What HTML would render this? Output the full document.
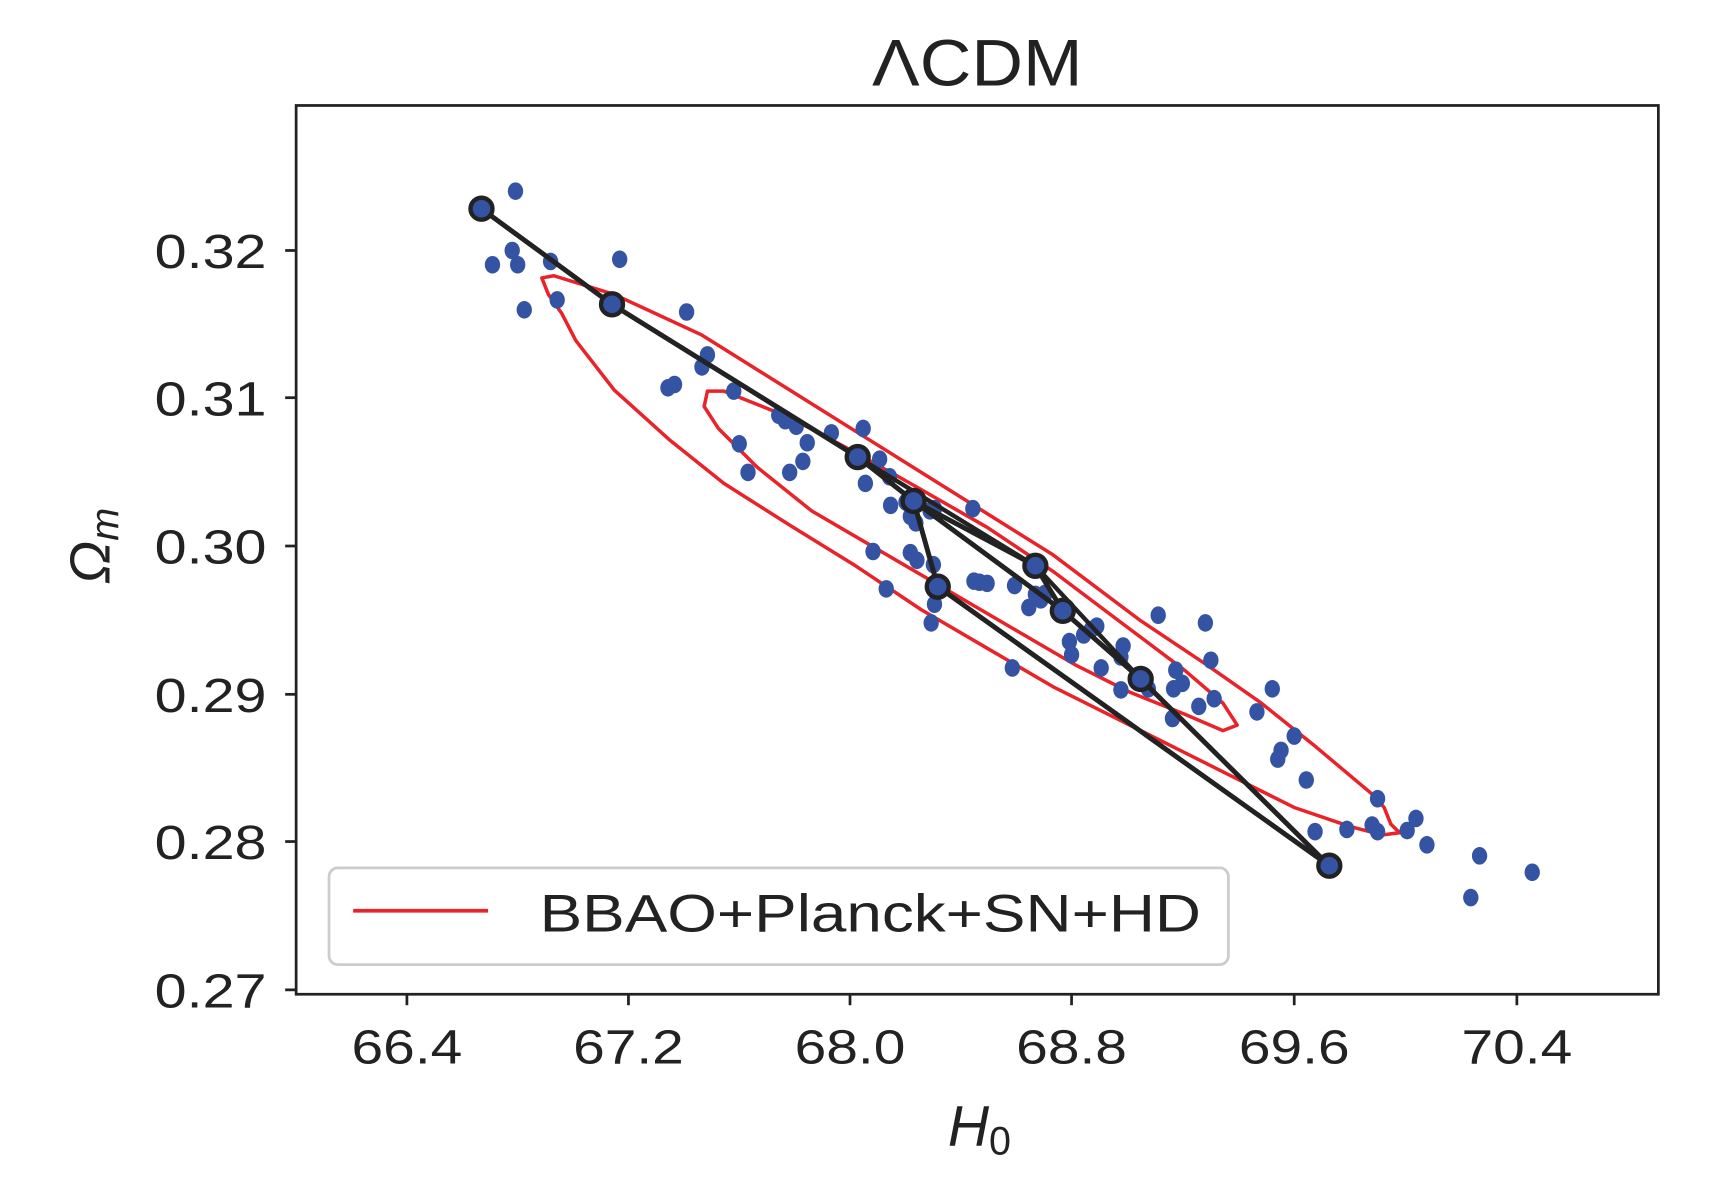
<!DOCTYPE html>
<html><head><meta charset="utf-8"><style>html,body{margin:0;padding:0;background:#fff}svg{display:block}</style></head>
<body>
<svg width="1711" height="1192" viewBox="0 0 1560 1085" preserveAspectRatio="none" xmlns="http://www.w3.org/2000/svg" font-family="'Liberation Sans','DejaVu Sans',sans-serif" fill="#222">
<rect width="1560" height="1085" fill="#fff"/>
<text x="891" y="78" font-size="60" text-anchor="middle" textLength="192" lengthAdjust="spacingAndGlyphs">ΛCDM</text>
<g fill="none" stroke="#e8242a" stroke-width="3.2" stroke-linejoin="round">
<path d="M494,253 L505,251 L560,268 L640,305 L720,355 L800,405 L880,455 L960,505 L1040,565 L1100,605 L1150,640 L1200,680 L1250,722 L1262,735 L1268,750 L1276,758 L1260,760 L1230,752 L1180,735 L1130,710 L1080,685 L1020,655 L960,625 L900,590 L840,555 L780,515 L720,478 L660,440 L610,400 L560,355 L525,310 L512,285 L500,268 Z"/>
<path d="M645,356 L660,356 L720,380 L780,412 L830,440 L900,480 L960,520 L1020,565 L1080,610 L1115,640 L1128,660 L1115,665 L1080,650 L1030,630 L980,605 L920,570 L860,535 L800,500 L740,465 L690,425 L655,390 L642,370 Z"/>
</g>
<g fill="#3553a3">
<ellipse cx="470" cy="174" rx="7" ry="8"/><ellipse cx="449" cy="241" rx="7" ry="8"/><ellipse cx="467" cy="228" rx="7" ry="8"/><ellipse cx="472" cy="241" rx="7" ry="8"/><ellipse cx="502" cy="238" rx="7" ry="8"/><ellipse cx="478" cy="282" rx="7" ry="8"/><ellipse cx="508" cy="273" rx="7" ry="8"/><ellipse cx="565" cy="236" rx="7" ry="8"/><ellipse cx="626" cy="284" rx="7" ry="8"/><ellipse cx="645" cy="323" rx="7" ry="8"/><ellipse cx="640" cy="334" rx="7" ry="8"/><ellipse cx="609" cy="353" rx="7" ry="8"/><ellipse cx="615" cy="350" rx="7" ry="8"/><ellipse cx="669" cy="356" rx="7" ry="8"/><ellipse cx="674" cy="404" rx="7" ry="8"/><ellipse cx="682" cy="430" rx="7" ry="8"/><ellipse cx="710" cy="378" rx="7" ry="8"/><ellipse cx="716" cy="383" rx="7" ry="8"/><ellipse cx="726" cy="388" rx="7" ry="8"/><ellipse cx="736" cy="403" rx="7" ry="8"/><ellipse cx="732" cy="420" rx="7" ry="8"/><ellipse cx="720" cy="430" rx="7" ry="8"/><ellipse cx="758" cy="394" rx="7" ry="8"/><ellipse cx="787" cy="390" rx="7" ry="8"/><ellipse cx="802" cy="418" rx="7" ry="8"/><ellipse cx="789" cy="440" rx="7" ry="8"/><ellipse cx="811" cy="434" rx="7" ry="8"/><ellipse cx="812" cy="460" rx="7" ry="8"/><ellipse cx="826" cy="457" rx="7" ry="8"/><ellipse cx="832" cy="453" rx="7" ry="8"/><ellipse cx="830" cy="470" rx="7" ry="8"/><ellipse cx="835" cy="476" rx="7" ry="8"/><ellipse cx="848" cy="465" rx="7" ry="8"/><ellipse cx="852" cy="463" rx="7" ry="8"/><ellipse cx="887" cy="463" rx="7" ry="8"/><ellipse cx="796" cy="502" rx="7" ry="8"/><ellipse cx="830" cy="503" rx="7" ry="8"/><ellipse cx="836" cy="510" rx="7" ry="8"/><ellipse cx="851" cy="514" rx="7" ry="8"/><ellipse cx="808" cy="536" rx="7" ry="8"/><ellipse cx="852" cy="550" rx="7" ry="8"/><ellipse cx="849" cy="567" rx="7" ry="8"/><ellipse cx="888" cy="529" rx="7" ry="8"/><ellipse cx="893" cy="530" rx="7" ry="8"/><ellipse cx="900" cy="531" rx="7" ry="8"/><ellipse cx="925" cy="533" rx="7" ry="8"/><ellipse cx="938" cy="553" rx="7" ry="8"/><ellipse cx="944" cy="541" rx="7" ry="8"/><ellipse cx="949" cy="546" rx="7" ry="8"/><ellipse cx="953" cy="540" rx="7" ry="8"/><ellipse cx="972" cy="555" rx="7" ry="8"/><ellipse cx="988" cy="578" rx="7" ry="8"/><ellipse cx="995" cy="573" rx="7" ry="8"/><ellipse cx="1000" cy="570" rx="7" ry="8"/><ellipse cx="975" cy="584" rx="7" ry="8"/><ellipse cx="977" cy="596" rx="7" ry="8"/><ellipse cx="1004" cy="608" rx="7" ry="8"/><ellipse cx="1022" cy="598" rx="7" ry="8"/><ellipse cx="1024" cy="588" rx="7" ry="8"/><ellipse cx="923" cy="608" rx="7" ry="8"/><ellipse cx="1022" cy="628" rx="7" ry="8"/><ellipse cx="1042" cy="615" rx="7" ry="8"/><ellipse cx="1047" cy="627" rx="7" ry="8"/><ellipse cx="1056" cy="560" rx="7" ry="8"/><ellipse cx="1072" cy="610" rx="7" ry="8"/><ellipse cx="1070" cy="627" rx="7" ry="8"/><ellipse cx="1078" cy="622" rx="7" ry="8"/><ellipse cx="1069" cy="654" rx="7" ry="8"/><ellipse cx="1093" cy="643" rx="7" ry="8"/><ellipse cx="1099" cy="567" rx="7" ry="8"/><ellipse cx="1104" cy="601" rx="7" ry="8"/><ellipse cx="1107" cy="636" rx="7" ry="8"/><ellipse cx="1146" cy="648" rx="7" ry="8"/><ellipse cx="1160" cy="627" rx="7" ry="8"/><ellipse cx="1168" cy="683" rx="7" ry="8"/><ellipse cx="1165" cy="691" rx="7" ry="8"/><ellipse cx="1180" cy="670" rx="7" ry="8"/><ellipse cx="1191" cy="710" rx="7" ry="8"/><ellipse cx="1199" cy="757" rx="7" ry="8"/><ellipse cx="1228" cy="755" rx="7" ry="8"/><ellipse cx="1256" cy="727" rx="7" ry="8"/><ellipse cx="1251" cy="751" rx="7" ry="8"/><ellipse cx="1256" cy="757" rx="7" ry="8"/><ellipse cx="1283" cy="756" rx="7" ry="8"/><ellipse cx="1291" cy="745" rx="7" ry="8"/><ellipse cx="1301" cy="769" rx="7" ry="8"/><ellipse cx="1349" cy="779" rx="7" ry="8"/><ellipse cx="1341" cy="817" rx="7" ry="8"/><ellipse cx="1397" cy="794" rx="7" ry="8"/>
</g>
<polyline fill="none" stroke="#222" stroke-width="4.5" stroke-linejoin="round" points="439,190 558,277 782,416 833,456 944,515 969,556 1040,618 1212,788 855,534 833,456 969,556"/>
<polyline fill="none" stroke="#222" stroke-width="4" points="558,277 782,416 944,515 1040,618"/>
<g fill="#3553a3" stroke="#222" stroke-width="4">
<circle cx="439" cy="190" r="10"/><circle cx="558" cy="277" r="10"/><circle cx="782" cy="416" r="10"/><circle cx="833" cy="456" r="10"/><circle cx="944" cy="515" r="10"/><circle cx="855" cy="534" r="10"/><circle cx="969" cy="556" r="10"/><circle cx="1040" cy="618" r="10"/><circle cx="1212" cy="788" r="10"/>
</g>
<rect x="300" y="790" width="820" height="88" rx="8" fill="#fff" fill-opacity="0.85" stroke="#ccc" stroke-width="2.5"/>
<line x1="322" y1="829" x2="445" y2="829" stroke="#e8242a" stroke-width="3.5"/>
<text x="492" y="848" font-size="48" textLength="603" lengthAdjust="spacingAndGlyphs">BBAO+Planck+SN+HD</text>
<rect x="270" y="96" width="1242" height="809" fill="none" stroke="#222" stroke-width="2.5"/>
<g stroke="#222" stroke-width="2.5">
<line x1="371" y1="905" x2="371" y2="915"/><line x1="573" y1="905" x2="573" y2="915"/><line x1="775" y1="905" x2="775" y2="915"/><line x1="977" y1="905" x2="977" y2="915"/><line x1="1180" y1="905" x2="1180" y2="915"/><line x1="1383" y1="905" x2="1383" y2="915"/>
<line x1="260" y1="228" x2="270" y2="228"/><line x1="260" y1="362" x2="270" y2="362"/><line x1="260" y1="497" x2="270" y2="497"/><line x1="260" y1="632" x2="270" y2="632"/><line x1="260" y1="766" x2="270" y2="766"/><line x1="260" y1="901" x2="270" y2="901"/>
</g>
<g font-size="44" text-anchor="middle">
<text x="371" y="968" textLength="101" lengthAdjust="spacingAndGlyphs">66.4</text><text x="573" y="968" textLength="101" lengthAdjust="spacingAndGlyphs">67.2</text><text x="775" y="968" textLength="101" lengthAdjust="spacingAndGlyphs">68.0</text><text x="977" y="968" textLength="101" lengthAdjust="spacingAndGlyphs">68.8</text><text x="1180" y="968" textLength="101" lengthAdjust="spacingAndGlyphs">69.6</text><text x="1383" y="968" textLength="101" lengthAdjust="spacingAndGlyphs">70.4</text>
</g>
<g font-size="44">
<text x="141" y="244" textLength="102" lengthAdjust="spacingAndGlyphs">0.32</text><text x="141" y="378" textLength="102" lengthAdjust="spacingAndGlyphs">0.31</text><text x="141" y="513" textLength="102" lengthAdjust="spacingAndGlyphs">0.30</text><text x="141" y="648" textLength="102" lengthAdjust="spacingAndGlyphs">0.29</text><text x="141" y="782" textLength="102" lengthAdjust="spacingAndGlyphs">0.28</text><text x="141" y="917" textLength="102" lengthAdjust="spacingAndGlyphs">0.27</text>
</g>
<text x="893" y="1043" font-size="52" text-anchor="middle"><tspan font-style="italic">H</tspan><tspan font-size="36" dy="8">0</tspan></text>
<text transform="translate(100,497) rotate(-90)" font-size="52" text-anchor="middle"><tspan font-style="italic">Ω</tspan><tspan font-style="italic" font-size="36" dy="8">m</tspan></text>
</svg>
</body></html>
